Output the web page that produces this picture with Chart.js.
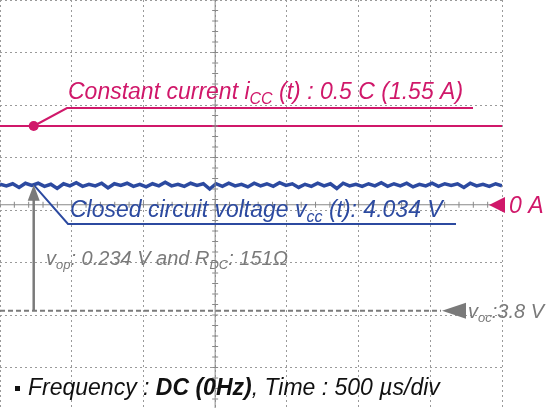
<!DOCTYPE html>
<html><head><meta charset="utf-8">
<script src="https://cdn.jsdelivr.net/npm/chart.js@4/dist/chart.umd.min.js"></script>
<style>html,body{margin:0;padding:0;background:#fff;overflow:hidden}#wrap{width:550px;height:420px}</style>
</head><body><div id="wrap"><canvas id="c"></canvas></div>
<script>
// values in screen divisions (x: 0..7 time divs, y: 0..8 vertical divs)
var currentLevel = 5.6;      // i_cc trace
var voltageLevel = 4.48;     // v_cc trace
var ocLevel = 2.08;          // v_oc reference
var markerX = 0.47;
// noise on the v_cc trace
var voltageNoise = [0.01,-0.02,0.02,-0.05,0.03,-0.01,0.03,-0.03,0.01,-0.07,0.02,-0.02,0.04,-0.03,0.01,-0.02,0.03,-0.06,0.02,-0.01,
  0.03,-0.03,0.01,-0.04,0.02,-0.02,0.05,-0.02,0.01,-0.03,0.03,-0.01,0.02,-0.08,0.02,-0.03,0.03,-0.02,0.01,-0.04,
  0.03,-0.02,0.02,-0.03,0.04,-0.01,0.02,-0.05,0.01,-0.03,0.03,-0.02,0.02,-0.07,0.03,-0.02,0.01,-0.03,0.02,-0.02,
  0.04,-0.03,0.02,-0.02,0.03,-0.04,0.01,-0.02,0.03,-0.03,0.02,-0.01,0.02,-0.05,0.03,-0.02,0.01,-0.03,0.02,-0.02];

var voltagePts = voltageNoise.map(function (d, i) { return {x: i * 7 / (voltageNoise.length - 1), y: voltageLevel + d}; });

var pink = '#d0186a', blue = '#2c4aa0', gray = '#7a7a7a';

var overlay = {
  id: 'overlay',
  afterDatasetsDraw: function (chart) {
    var c = chart.ctx, x = chart.scales.x, y = chart.scales.y;
    c.save();
    // centre crosshair with minor ticks
    var cx = x.getPixelForValue(3), cy = y.getPixelForValue(4.1);
    c.strokeStyle = '#888'; c.lineWidth = 1;
    c.beginPath(); c.moveTo(cx, 0); c.lineTo(cx, 420); c.moveTo(0, cy); c.lineTo(x.right, cy);
    for (var i = 0; i <= 35; i++) { var px = x.getPixelForValue(i / 5); c.moveTo(px, cy - 3); c.lineTo(px, cy + 3); }
    for (var j = 0; j <= 40; j++) { var py = y.getPixelForValue(j / 5); c.moveTo(cx - 3, py); c.lineTo(cx + 3, py); }
    c.stroke();

    function txt(parts, px, py) {
      parts.forEach(function (p) {
        c.font = p[1]; c.fillStyle = p[2];
        c.fillText(p[0], px, py + (p[3] || 0));
        px += c.measureText(p[0]).width;
      });
    }
    c.textBaseline = 'alphabetic';
    var mx = x.getPixelForValue(markerX);
    // current callout
    var ly = y.getPixelForValue(currentLevel);
    c.strokeStyle = pink; c.lineWidth = 2;
    c.beginPath(); c.moveTo(mx, ly); c.lineTo(67, 108); c.lineTo(473, 108); c.stroke();
    c.fillStyle = pink; c.beginPath(); c.arc(mx, ly, 5, 0, 7); c.fill();
    var f = 'italic 23px Liberation Sans, Arial', fs = 'italic 16px Liberation Sans, Arial';
    txt([['Constant current i', f, pink], ['CC', fs, pink, 5], [' (t) : 0.5 C (1.55 A)', f, pink]], 68, 99);
    // voltage callout
    var vy = y.getPixelForValue(voltageLevel);
    c.strokeStyle = blue; c.lineWidth = 2;
    c.beginPath(); c.moveTo(mx, vy); c.lineTo(68, 224); c.lineTo(456, 224); c.stroke();
    txt([['Closed circuit voltage v', f, blue], ['cc', fs, blue, 5], [' (t): 4.034 V', f, blue]], 70, 217);
    // 0 A marker
    c.fillStyle = pink; c.beginPath(); c.moveTo(489, 205); c.lineTo(505, 197); c.lineTo(505, 213); c.fill();
    txt([['0 A', f, pink]], 509, 213);
    // v_op arrow
    var oy = y.getPixelForValue(ocLevel);
    c.strokeStyle = gray; c.lineWidth = 2.5;
    c.beginPath(); c.moveTo(mx, oy); c.lineTo(mx, vy + 14); c.stroke();
    c.fillStyle = gray; c.beginPath(); c.moveTo(mx, vy); c.lineTo(mx - 6, vy + 16); c.lineTo(mx + 6, vy + 16); c.fill();
    var g = 'italic 20px Liberation Sans, Arial', gs = 'italic 13px Liberation Sans, Arial';
    txt([['v', g, gray], ['op', gs, gray, 4], [': 0.234 V and R', g, gray], ['DC', gs, gray, 4], [': 151\u03A9', g, gray]], 46, 265);
    // v_oc marker
    c.beginPath(); c.moveTo(442, oy); c.lineTo(466, oy - 8); c.lineTo(466, oy + 8); c.fill();
    txt([['v', g, gray], ['oc', gs, gray, 4], [':3.8 V', g, gray]], 468, 318);
    // footer
    var k = 'italic 23px Liberation Sans, Arial';
    c.fillStyle = '#111'; c.fillRect(15, 386, 5, 5);
    txt([['Frequency : ', k, '#111'], ['DC (0Hz)', 'italic bold 23px Liberation Sans, Arial', '#111'], [', Time : 500 \u00B5s/div', k, '#111']], 28, 395);
    c.restore();
  }
};

new Chart(document.getElementById('c'), {
  type: 'line',
  data: {
    datasets: [
      {data: [{x: 0, y: currentLevel}, {x: 7, y: currentLevel}], borderColor: pink, borderWidth: 2, pointRadius: 0},
      {data: voltagePts, borderColor: blue, borderWidth: 3.5, pointRadius: 0, tension: 0},
      {data: [{x: 0, y: ocLevel}, {x: 6.15, y: ocLevel}], borderColor: gray, borderWidth: 2, borderDash: [5, 3], pointRadius: 0}
    ]
  },
  options: {
    responsive: true, maintainAspectRatio: false, animation: false,
    layout: {padding: {left: 0, right: 48, top: 0, bottom: 0}},
    plugins: {legend: {display: false}, tooltip: {enabled: false}},
    scales: {
      x: {type: 'linear', min: 0, max: 7, ticks: {display: false, stepSize: 1}, grid: {color: '#9a9a9a', drawTicks: false}, border: {display: false, dash: [2, 3]}},
      y: {min: 0, max: 8, ticks: {display: false, stepSize: 1}, grid: {color: '#9a9a9a', drawTicks: false}, border: {display: false, dash: [2, 3]}}
    }
  },
  plugins: [overlay]
});
</script></body></html>
